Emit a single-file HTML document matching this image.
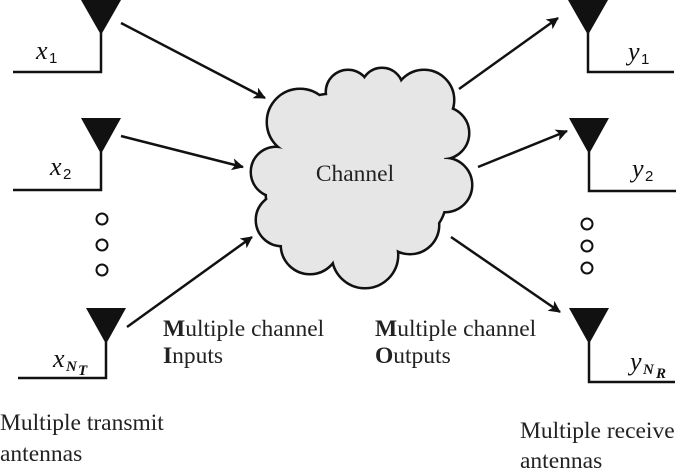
<!DOCTYPE html>
<html><head><meta charset="utf-8"><style>
html,body{margin:0;padding:0;background:#fff}
svg{display:block}
.t{font-family:"Liberation Serif",serif;font-size:23.5px;fill:#222}
.m{font-family:"Liberation Serif",serif;font-style:italic;font-size:26px;fill:#111}
.s{font-family:"Liberation Sans",sans-serif;font-size:15px;fill:#111}
.sb{font-family:"Liberation Serif",serif;font-style:italic;font-weight:bold;font-size:15px;fill:#111}
</style></head><body>
<svg width="685" height="472" viewBox="0 0 685 472" xmlns="http://www.w3.org/2000/svg">
<defs>
<marker id="ah" markerWidth="12" markerHeight="12" refX="11" refY="6" orient="auto" markerUnits="userSpaceOnUse" viewBox="0 0 12 12">
<path d="M0,0 L12,6 L0,12 L3,6 z" fill="#111"/>
</marker>
<g id="cl">
<circle cx="300" cy="122" r="32"/><circle cx="348" cy="92" r="21"/><circle cx="382" cy="89" r="20"/>
<circle cx="424" cy="100" r="29"/><circle cx="443" cy="133" r="25"/><circle cx="445" cy="185" r="26"/>
<circle cx="365" cy="255" r="32"/><circle cx="310" cy="245" r="28"/><circle cx="282" cy="220" r="25"/>
<circle cx="276" cy="172" r="24"/><circle cx="410" cy="225" r="28"/>
<circle cx="360" cy="170" r="72"/><circle cx="330" cy="140" r="45"/><circle cx="400" cy="150" r="45"/>
<circle cx="365" cy="110" r="25"/><circle cx="330" cy="210" r="40"/><circle cx="405" cy="200" r="40"/>
<circle cx="395" cy="110" r="25"/><circle cx="292" cy="195" r="25"/>
</g>
</defs>
<g stroke="#111" stroke-width="5" fill="#111"><use href="#cl"/></g>
<g fill="#e6e6e6"><use href="#cl"/></g>
<text class="t" x="355" y="181" text-anchor="middle" font-size="24">Channel</text>

<g stroke="#111" stroke-width="2.5" fill="none">
<path d="M101,33 V72 H13"/><path d="M101,152 V190 H13"/><path d="M106,342 V378 H18"/>
<path d="M588,33 V72 H674"/><path d="M589,152 V191 H676"/><path d="M589,342 V382 H675"/>
<line x1="121" y1="23" x2="265" y2="98" marker-end="url(#ah)"/>
<line x1="121" y1="136" x2="243" y2="167" marker-end="url(#ah)"/>
<line x1="127" y1="327" x2="252" y2="237" marker-end="url(#ah)"/>
<line x1="459" y1="89" x2="558" y2="18" marker-end="url(#ah)"/>
<line x1="478" y1="167" x2="567" y2="131" marker-end="url(#ah)"/>
<line x1="451" y1="237" x2="560" y2="312" marker-end="url(#ah)"/>
</g>
<g fill="#111">
<path d="M81,0 H121 L101,35 z"/><path d="M81,118 H121 L101,154 z"/><path d="M86,308 H126 L106,344 z"/>
<path d="M568,0 H608 L588,35 z"/><path d="M569,118 H609 L589,154 z"/><path d="M569,308 H609 L589,344 z"/>
</g>
<g fill="#fff" stroke="#111" stroke-width="2">
<circle cx="102" cy="219" r="5.5"/><circle cx="102" cy="245" r="5.5"/><circle cx="102" cy="270" r="5.5"/>
<circle cx="587" cy="224" r="5.5"/><circle cx="587" cy="246" r="5.5"/><circle cx="587" cy="268" r="5.5"/>
</g>
<text class="m" x="36" y="59">x</text><text class="s" x="49" y="63">1</text>
<text class="m" x="50" y="175">x</text><text class="s" x="63" y="179">2</text>
<text class="m" x="53" y="367">x</text><text class="sb" x="66" y="371">N</text><text class="sb" x="78" y="375" font-size="11">T</text>
<text class="m" x="628" y="60">y</text><text class="s" x="641" y="64">1</text>
<text class="m" x="632" y="177">y</text><text class="s" x="645" y="181">2</text>
<text class="m" x="630" y="370">y</text><text class="sb" x="643" y="374">N</text><text class="sb" x="656" y="378" font-size="11">R</text>

<text class="t" x="163" y="336"><tspan font-weight="bold">M</tspan>ultiple channel</text>
<text class="t" x="163" y="363"><tspan font-weight="bold">I</tspan>nputs</text>
<text class="t" x="375" y="336"><tspan font-weight="bold">M</tspan>ultiple channel</text>
<text class="t" x="375" y="363"><tspan font-weight="bold">O</tspan>utputs</text>
<text class="t" x="0" y="430">Multiple transmit</text>
<text class="t" x="0" y="461">antennas</text>
<text class="t" x="520" y="438">Multiple receive</text>
<text class="t" x="520" y="468">antennas</text>
</svg>
</body></html>
